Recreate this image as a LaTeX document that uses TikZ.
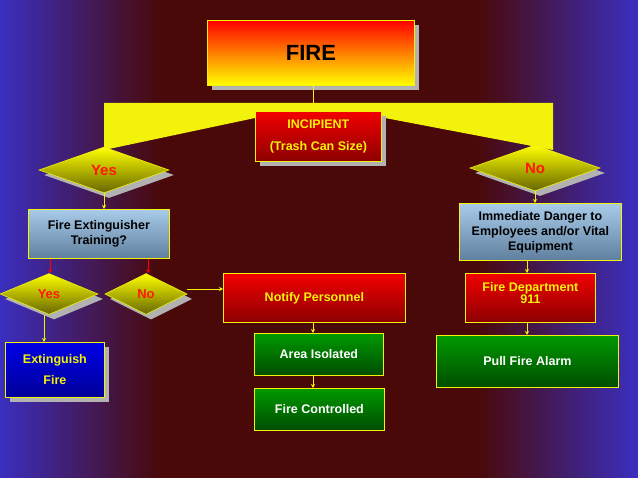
\documentclass[tikz,border=0pt]{standalone}
\usepackage{fontspec}
\setmainfont{Liberation Sans}
\setsansfont{Liberation Sans}
\usetikzlibrary{shapes.geometric,arrows.meta,shadows}
\definecolor{maroon}{HTML}{4A0909}
\definecolor{edgeblue}{HTML}{3A2FC0}
\definecolor{yel}{HTML}{F2F20A}
\definecolor{ltblue}{HTML}{A9CBEA}
\definecolor{stblue}{HTML}{5F7F9E}
\begin{document}
\begin{tikzpicture}[x=1pt,y=-1pt,
 font=\bfseries\sffamily,
 box/.style={draw=yel,line width=0.8pt,rectangle,anchor=north west,inner sep=0pt,align=center},
 sh/.style={drop shadow={shadow xshift=5pt,shadow yshift=-5pt,fill=gray!60,opacity=1}},
 redbox/.style={box,top color=red!95!black,bottom color=red!55!black,text=yel},
 bluebox/.style={box,top color=ltblue,bottom color=stblue,text=black},
 greenbox/.style={box,top color=green!60!black,bottom color=green!30!black,text=white},
 dia/.style={diamond,draw=yel,line width=0.6pt,aspect=2.8,inner sep=0pt,top color=yellow,bottom color=olive!80!black,text=red!80!orange,sh},
 con/.style={draw=yel,line width=0.6pt,-{Stealth[length=4pt,width=4pt]}},
 rcon/.style={draw=red,line width=0.6pt,-{Stealth[length=4pt,width=4pt]}}]
\useasboundingbox (0,0) rectangle (638,478);
\fill[maroon] (0,0) rectangle (638,478);
\shade[left color=edgeblue,right color=maroon] (0,0) rectangle (160,478);
\shade[left color=maroon,right color=edgeblue] (478,0) rectangle (638,478);
% funnel
\fill[yel] (104,103) -- (553,103) -- (553,150) -- (385,118) -- (255,118) -- (104,150) -- cycle;
\node[box,sh,minimum width=207pt,minimum height=65pt,top color=red,bottom color=yellow,middle color=orange,text=black,font=\bfseries\sffamily\fontsize{22}{24}\selectfont] (fire) at (207,20) {FIRE};
\node[redbox,sh,minimum width=126pt,minimum height=50pt,font=\bfseries\sffamily\fontsize{12.5}{22}\selectfont,text depth=2pt] (inc) at (255,111) {INCIPIENT\\(Trash Can Size)};
\node[dia,minimum width=130pt,minimum height=46pt,font=\bfseries\sffamily\fontsize{15}{16}\selectfont] (yes1) at (104,170) {Yes};
\node[dia,minimum width=130pt,minimum height=46pt,font=\bfseries\sffamily\fontsize{15}{16}\selectfont] (no1) at (535,168) {No};
\node[bluebox,minimum width=141pt,minimum height=49pt,font=\bfseries\sffamily\fontsize{12.5}{15}\selectfont] (ext) at (28,209) {Fire Extinguisher\\Training?};
\node[bluebox,minimum width=162pt,minimum height=57pt,font=\bfseries\sffamily\fontsize{12.5}{15}\selectfont] (imm) at (459,203) {Immediate Danger to\\Employees and/or Vital\\Equipment};
\node[dia,minimum width=98pt,minimum height=41pt,font=\bfseries\sffamily\fontsize{13}{14}\selectfont] (yes2) at (49,294) {Yes};
\node[dia,minimum width=82pt,minimum height=41pt,font=\bfseries\sffamily\fontsize{13}{14}\selectfont] (no2) at (146,294) {No};
\node[redbox,minimum width=182pt,minimum height=49pt,font=\bfseries\sffamily\fontsize{12.5}{14}\selectfont] (notify) at (223,273) {Notify Personnel};
\node[redbox,minimum width=130pt,minimum height=49pt,font=\bfseries\sffamily\fontsize{12.5}{11}\selectfont,text depth=10pt] (dept) at (465,273) {Fire Department\\911};
\node[box,sh,minimum width=99pt,minimum height=55pt,top color=blue!90!black,bottom color=blue!60!black,text=yel,font=\bfseries\sffamily\fontsize{12.5}{21}\selectfont] (extg) at (5,342) {Extinguish\\Fire};
\node[greenbox,minimum width=129pt,minimum height=42pt,font=\bfseries\sffamily\fontsize{12.5}{14}\selectfont] (area) at (254,333) {Area Isolated};
\node[greenbox,minimum width=130pt,minimum height=42pt,font=\bfseries\sffamily\fontsize{12.5}{14}\selectfont] (ctrl) at (254,388) {Fire Controlled};
\node[greenbox,minimum width=182pt,minimum height=52pt,font=\bfseries\sffamily\fontsize{12.5}{14}\selectfont] (pull) at (436,335) {Pull Fire Alarm};
% connectors
\coordinate (bar) at (313,103);
\draw[draw=yel,line width=0.6pt] (fire.south -| bar) -- (bar);
\draw[con] (yes1.south) -- (ext.north -| yes1.south);
\draw[con] (no1.south) -- (imm.north -| no1.south);
\draw[rcon] (ext.south -| 50,0) -- (yes2.north -| 50,0);
\draw[rcon] (ext.south -| 148,0) -- (no2.north -| 148,0);
\draw[con] (no2.east |- 0,289) -- (notify.west |- 0,289);
\draw[con] (yes2.south -| 44,0) -- (extg.north -| 44,0);
\draw[con] (notify.south -| 313,0) -- (area.north -| 313,0);
\draw[con] (area.south -| 313,0) -- (ctrl.north -| 313,0);
\draw[con] (imm.south -| 527,0) -- (dept.north -| 527,0);
\draw[con] (dept.south -| 527,0) -- (pull.north -| 527,0);
\end{tikzpicture}
\end{document}
